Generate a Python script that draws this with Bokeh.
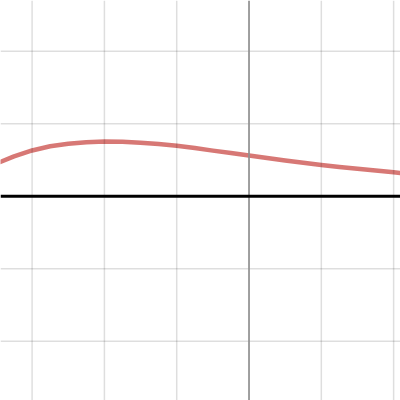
from bokeh.plotting import figure
from bokeh.models import Span
from bokeh.embed import file_html
from bokeh.resources import INLINE

# curve values
curve_x = [-3.44, -3.25, -3.0, -2.75, -2.5, -2.25, -2.0, -1.75, -1.5, -1.25, -1.0,
           -0.75, -0.5, -0.25, 0.0, 0.25, 0.5, 0.75, 1.0, 1.25, 1.5, 1.75, 2.0, 2.1]
curve_y = [0.473, 0.55, 0.632, 0.69, 0.724, 0.745, 0.756, 0.753, 0.738, 0.72, 0.698,
           0.665, 0.63, 0.597, 0.563, 0.528, 0.494, 0.462, 0.432, 0.405, 0.379, 0.355, 0.332, 0.321]

x_grid = [-3, -2, -1, 1, 2]
y_grid = [-2, -1, 1, 2]

p = figure(width=400, height=400, x_range=(-3.437, 2.095), y_range=(-2.817, 2.701),
           x_axis_type=None, y_axis_type=None, output_backend="svg",
           toolbar_location=None, min_border=0)
p.outline_line_color = None
p.background_fill_color = "white"

for gx in x_grid:
    p.add_layout(Span(location=gx, dimension="height", line_color="#000000",
                      line_alpha=0.13, line_width=1.5))
for gy in y_grid:
    p.add_layout(Span(location=gy, dimension="width", line_color="#000000",
                      line_alpha=0.13, line_width=1.5))

p.add_layout(Span(location=0, dimension="height", line_color="#8f8f8f", line_width=1.7))
p.add_layout(Span(location=0, dimension="width", line_color="#000000", line_width=3))

p.line(curve_x, curve_y, line_color="#c74440", line_alpha=0.72, line_width=4.5,
       line_join="round", line_cap="round")

open("out.html", "w").write(file_html(p, INLINE))
